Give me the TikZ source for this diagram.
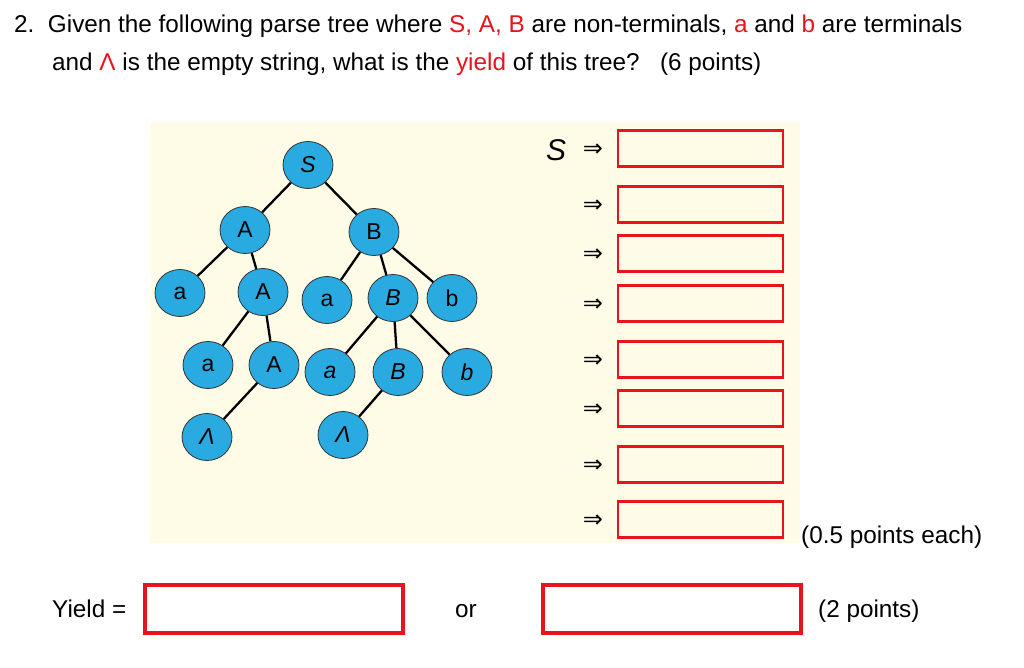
\documentclass[tikz,border=0pt]{standalone}
\usepackage{fontspec}
\setmainfont{Liberation Sans}
\newfontfamily\arrfont{DejaVu Sans}
\usetikzlibrary{shapes.geometric}
\definecolor{qred}{HTML}{E8141B}
\definecolor{bg}{HTML}{FEFCE6}
\definecolor{nblue}{HTML}{29ABE2}
\begin{document}
\begin{tikzpicture}[x=1pt,y=-1pt,
  tn/.style={ellipse,draw=black!80,line width=0.8pt,fill=nblue,minimum width=50pt,minimum height=47pt,inner sep=0pt,font=\fontsize{23}{24}\selectfont},
  edge/.style={line width=2.3pt},
  ansbox/.style={draw=qred,line width=2.2pt,minimum width=165pt,minimum height=36pt,inner sep=0pt},
  ybox/.style={draw=qred,line width=4pt,minimum width=258pt,minimum height=48pt,inner sep=0pt},
  txt/.style={anchor=base west,inner sep=0pt,font=\fontsize{24.3}{26}\selectfont},
  arr/.style={font=\arrfont\fontsize{24}{24}\selectfont,inner sep=0pt}]
\useasboundingbox (0,0) rectangle (1024,668);
\fill[white] (0,0) rectangle (1024,668);
\fill[bg] (150,122) rectangle (800,543);
\node[txt] (t1) at (14,33) {2.\ \ Given the following parse tree where \textcolor{qred}{S, A, B} are non-terminals, \textcolor{qred}{a} and \textcolor{qred}{b} are terminals};
\node[txt] (t2) at (52,71) {and \textcolor{qred}{Λ} is the empty string, what is the \textcolor{qred}{yield} of this tree?\ \ \ (6 points)};
% tree
\node[tn] (S) at (308,165) {\itshape S};
\node[tn] (A1) at (245,230) {A};
\node[tn] (B1) at (374,232) {B};
\node[tn] (a1) at (180,293) {a};
\node[tn] (A2) at (263,292) {A};
\node[tn] (a2) at (327,300) {a};
\node[tn] (B2) at (393,298) {\itshape B};
\node[tn] (b1) at (452,298) {b};
\node[tn] (a3) at (208,365) {a};
\node[tn] (A3) at (274,365) {A};
\node[tn] (a4) at (330,372) {\itshape a};
\node[tn] (B3) at (398,372) {\itshape B};
\node[tn] (b2) at (467,372) {\itshape b};
\node[tn] (L1) at (207,437) {\itshape Λ};
\node[tn] (L2) at (343,435) {\itshape Λ};
\foreach \p/\c in {S/A1,S/B1,A1/a1,A1/A2,A2/a3,A2/A3,A3/L1,B1/a2,B1/B2,B1/b1,B2/a4,B2/B3,B2/b2,B3/L2}
  \draw[edge] (\p) -- (\c);
% derivation
\node[inner sep=0pt,font=\fontsize{30}{30}\selectfont\itshape] (Sd) at (556,150) {S};
\foreach \i/\y in {1/148.5,2/204.5,3/253.5,4/303.5,5/359.5,6/408.5,7/464.5,8/519.5}{
  \node[ansbox] (r\i) at (700.5,\y) {};
  \node[arr] (ar\i) at (593,\y+2) {⇒};
}
\node[txt] (each) at (801,543) {(0.5 points each)};
\node[txt] (yl) at (52,617) {Yield =};
\node[ybox] (y1) at (273.5,608.5) {};
\node[txt] (or) at (455,617) {or};
\node[ybox] (y2) at (671.5,608.5) {};
\node[txt] (tp) at (818,617) {(2 points)};
\end{tikzpicture}
\end{document}
